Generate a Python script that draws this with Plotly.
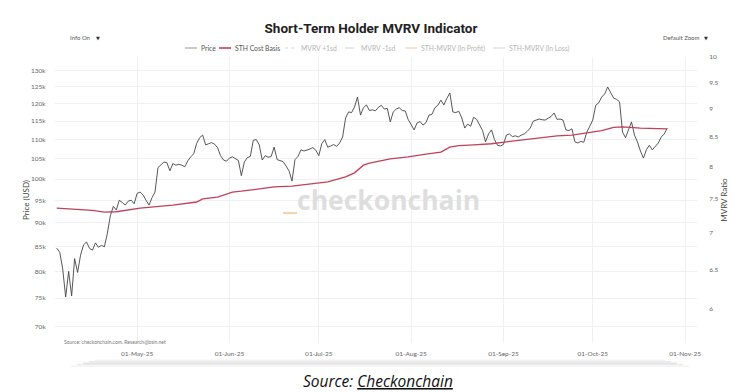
import pandas as pd
import plotly.graph_objects as go

# ---------------- data ----------------
price_start = "2025-04-04"
price_k = [
    # Apr 4 - Apr 30
    84.6, 83.8, 80.5, 75.2, 80.0, 75.4, 82.5, 79.8, 83.2, 85.3, 85.9, 84.6, 84.2, 85.7,
    84.8, 85.2, 84.9, 87.7, 91.5, 93.6, 92.8, 95.0, 94.5, 93.9, 94.8, 95.0, 94.2,
    # May
    96.6, 96.9, 96.2, 95.0, 93.9, 95.6, 96.9, 102.8, 103.5, 104.2, 104.0, 102.0, 103.8,
    103.4, 103.6, 103.4, 103.0, 104.5, 105.5, 106.3, 109.0, 110.5, 111.2, 108.6, 108.9,
    109.2, 108.8, 107.9, 105.8, 104.7, 104.4,
    # Jun
    105.2, 105.5, 105.0, 104.6, 100.8, 104.2, 105.3, 105.6, 109.8, 110.0, 108.6, 104.7,
    105.8, 105.4, 105.6, 108.0, 104.8, 104.6, 104.3, 103.2, 102.0, 99.5, 104.8, 105.6,
    107.3, 107.0, 107.2, 107.5, 107.9, 107.2,
    # Jul
    105.8, 108.9, 110.0, 108.0, 108.3, 108.7, 108.2, 109.1, 110.7, 115.9, 117.6, 117.4,
    119.0, 121.9, 116.7, 118.8, 119.6, 118.0, 118.2, 117.9, 118.9, 119.5, 118.4, 118.6,
    114.8, 117.6, 118.4, 118.8, 118.0, 117.9, 115.5,
    # Aug
    114.0, 112.6, 114.5, 114.9, 113.9, 114.6, 116.7, 116.9, 118.8, 119.5, 121.0, 119.6,
    121.5, 123.1, 117.6, 117.4, 117.8, 115.9, 113.1, 114.2, 113.6, 116.1, 115.5, 113.8,
    112.4, 109.4, 111.5, 112.6, 110.0, 108.5, 108.3,
    # Sep
    108.7, 111.2, 111.5, 110.8, 111.0, 110.7, 111.2, 111.5, 112.2, 113.1, 115.0, 115.3,
    115.6, 115.4, 115.3, 115.8, 116.3, 117.3, 115.5, 115.6, 115.3, 112.6, 112.4, 112.9,
    109.4, 109.1, 109.5, 109.3, 112.0, 113.6,
    # Oct 1 - Oct 26
    115.3, 119.5, 120.2, 121.9, 122.8, 124.9, 123.4, 121.6, 121.2, 120.5, 112.0, 110.5,
    112.6, 114.8, 111.2, 109.4, 107.0, 105.2, 107.3, 108.5, 107.3, 108.2, 109.1, 110.7,
    111.5, 113.1,
]

cost_dates = [
    "2025-04-04", "2025-04-10", "2025-04-16", "2025-04-20", "2025-04-24", "2025-05-02",
    "2025-05-13", "2025-05-21", "2025-05-23", "2025-05-28", "2025-06-02", "2025-06-05",
    "2025-06-16", "2025-06-22", "2025-07-04", "2025-07-10", "2025-07-13", "2025-07-16",
    "2025-07-18", "2025-07-25", "2025-07-31", "2025-08-06", "2025-08-11", "2025-08-14",
    "2025-08-17", "2025-08-22", "2025-08-28", "2025-09-02", "2025-09-08", "2025-09-13",
    "2025-09-19", "2025-09-24", "2025-09-29", "2025-10-04", "2025-10-08", "2025-10-11",
    "2025-10-17", "2025-10-23", "2025-10-26",
]
cost_k = [
    93.2, 93.0, 92.7, 92.3, 92.4, 93.2,
    93.9, 94.6, 95.3, 95.7, 96.9, 97.1,
    98.1, 98.3, 99.3, 100.5, 101.5, 103.4,
    103.9, 105.0, 105.5, 106.2, 106.7, 108.0,
    108.4, 108.6, 108.9, 109.4, 109.9, 110.4,
    111.0, 111.2, 111.8, 112.4, 113.3, 113.4,
    113.1, 112.9, 112.9,
]

price_ticks = [70, 75, 80, 85, 90, 95, 100, 105, 110, 115, 120, 125, 130]
price_tick_labels = [f"{v}k" for v in price_ticks]
mvrv_ticks = [6, 6.5, 7, 7.5, 8, 8.5, 9, 9.5, 10]
mvrv_tick_labels = ["6", "6.5", "7", "7.5", "8", "8.5", "9", "9.5", "10"]

legend_names = ["Price", "STH Cost Basis", "MVRV +1sd", "MVRV -1sd",
                "STH-MVRV (In Profit)", "STH-MVRV (In Loss)"]
legend_line_colors = ["#bdbdbd", "#c0415a", "#e2e2e2", "#e2e2e2", "#f7dcc0", "#e0e4ea"]
legend_text_colors = ["#555555", "#555555", "#b5b5b5", "#b5b5b5", "#b5b5b5", "#b5b5b5"]
legend_dash = ["solid", "solid", "dot", "dash", "solid", "solid"]

# ---------------- figure ----------------
price_dates = pd.date_range(price_start, periods=len(price_k), freq="D")

fig = go.Figure()
fig.add_trace(go.Scatter(
    x=price_dates, y=[v * 1000 for v in price_k], name="Price", mode="lines",
    line=dict(color="#444444", width=0.9), yaxis="y", showlegend=False,
))
fig.add_trace(go.Scatter(
    x=pd.to_datetime(cost_dates), y=[v * 1000 for v in cost_k], name="STH Cost Basis",
    mode="lines", line=dict(color="#c0415a", width=1.3), yaxis="y", showlegend=False,
))
# invisible anchor so the right-hand MVRV axis is drawn
fig.add_trace(go.Scatter(x=[price_dates[-1]], y=[None], yaxis="y2", mode="lines",
                         showlegend=False, hoverinfo="skip"))

L, R, T, B = 55, 697, 57, 343
W, H = 742, 392

def px(x):
    return (x - L) / (R - L)

def py(y):
    return (B - y) / (B - T)

grid = "#f0f0f0"
tickfont = dict(family="Lato, Roboto, sans-serif", size=6.5, color="#666666")

fig.update_layout(
    width=W, height=H,
    margin=dict(l=L, r=W - R, t=T, b=H - B, autoexpand=False),
    paper_bgcolor="white", plot_bgcolor="white",
    showlegend=False,
    title=dict(
        text="<b>Short-Term Holder MVRV Indicator</b>",
        x=0.5, xanchor="center", y=1 - 28 / H, yanchor="middle",
        font=dict(family="Roboto, sans-serif", size=13.5, color="#222222"),
    ),
    xaxis=dict(
        type="date", range=["2025-04-03 10:00", "2025-11-05"],
        tick0="2025-05-01", dtick="M1", tickformat="%d-%b-%y",
        showgrid=True, gridcolor=grid, gridwidth=1, zeroline=False,
        showline=False, ticks="outside", ticklen=4, tickcolor="rgba(0,0,0,0)",
        tickfont=tickfont,
    ),
    yaxis=dict(
        type="log", range=[4.828, 5.128],
        tickvals=[v * 1000 for v in price_ticks], ticktext=price_tick_labels,
        showgrid=True, gridcolor=grid, zeroline=False, showline=False,
        ticks="outside", ticklen=7, tickcolor="rgba(0,0,0,0)", tickfont=tickfont,
        title=dict(text="Price (USD)", font=dict(family="Lato, Roboto, sans-serif", size=8, color="#444444"), standoff=0),
    ),
    yaxis2=dict(
        type="log", range=[0.7482, 1.0], overlaying="y", side="right",
        tickvals=mvrv_ticks, ticktext=mvrv_tick_labels,
        showgrid=False, zeroline=False, showline=False,
        ticks="outside", ticklen=10, tickcolor="rgba(0,0,0,0)", tickfont=tickfont,
        title=dict(text="MVRV Ratio", font=dict(family="Lato, Roboto, sans-serif", size=8, color="#444444"), standoff=1),
    ),
)

# legend row (drawn as text + short line keys)
leg_line_x = [185, 219, 285, 345, 405, 493]
for x0, name, lc, tc, dash in zip(leg_line_x, legend_names, legend_line_colors,
                                  legend_text_colors, legend_dash):
    fig.add_shape(type="line", xref="paper", yref="paper", x0=px(x0), x1=px(x0 + 12),
                  y0=py(48), y1=py(48), line=dict(color=lc, width=1.6, dash=dash))
    fig.add_annotation(x=px(x0 + 14), y=py(48), xref="paper", yref="paper", text=name,
                       showarrow=False, xanchor="left", yanchor="middle",
                       font=dict(family="Lato, Roboto, sans-serif", size=6.8, color=tc))

# watermark
fig.add_annotation(
    x=px(388), y=py(200), xref="paper", yref="paper", text="<b>checkonchain</b>",
    showarrow=False, font=dict(family="Open Sans, sans-serif", size=26.5, color="#dedede"),
    xanchor="center", yanchor="middle",
)
fig.add_shape(type="line", xref="paper", yref="paper", x0=px(283), x1=px(297),
              y0=py(213), y1=py(213), line=dict(color="#f6d2ad", width=2))

# menus (static labels)
fig.add_annotation(x=px(68), y=py(38), xref="paper", yref="paper", text="Info On",
                   showarrow=False, xanchor="left", yanchor="middle",
                   font=dict(family="Lato, sans-serif", size=6, color="#555555"))
fig.add_annotation(x=px(98), y=py(38), xref="paper", yref="paper", text="▼",
                   showarrow=False, xanchor="center", yanchor="middle",
                   font=dict(family="DejaVu Sans, sans-serif", size=5, color="#333333"))
fig.add_annotation(x=px(661), y=py(38), xref="paper", yref="paper", text="Default Zoom",
                   showarrow=False, xanchor="left", yanchor="middle",
                   font=dict(family="Lato, sans-serif", size=6, color="#555555"))
fig.add_annotation(x=px(706), y=py(38), xref="paper", yref="paper", text="▼",
                   showarrow=False, xanchor="center", yanchor="middle",
                   font=dict(family="DejaVu Sans, sans-serif", size=5, color="#333333"))

# source note inside chart
fig.add_annotation(x=px(62), y=py(342), xref="paper", yref="paper",
                   text="Source: checkonchain.com. Research@bsin.net",
                   showarrow=False, xanchor="left", yanchor="middle",
                   font=dict(family="Lato, sans-serif", size=5, color="#777777"))

# card shadow under chart
for i, c in enumerate(["#f2f2f2", "#e9e9e9", "#e4e4e4", "#ebebeb", "#f5f5f5"]):
    fig.add_shape(type="rect", xref="paper", yref="paper", layer="below",
                  x0=px(95 - i * 6), x1=px(665 + i * 6), y0=py(361 + 1.5 * i), y1=py(359.5 + 1.5 * i),
                  line=dict(width=0), fillcolor=c)

# caption
fig.add_annotation(x=px(378), y=py(381), xref="paper", yref="paper",
                   text="<i>Source: <u>Checkonchain</u></i>",
                   showarrow=False, xanchor="center", yanchor="middle",
                   font=dict(family="Open Sans, sans-serif", size=15.5, color="#111111"))

fig.write_html("out.html", config={"displayModeBar": False},
               post_script="document.body.style.margin='0';")
